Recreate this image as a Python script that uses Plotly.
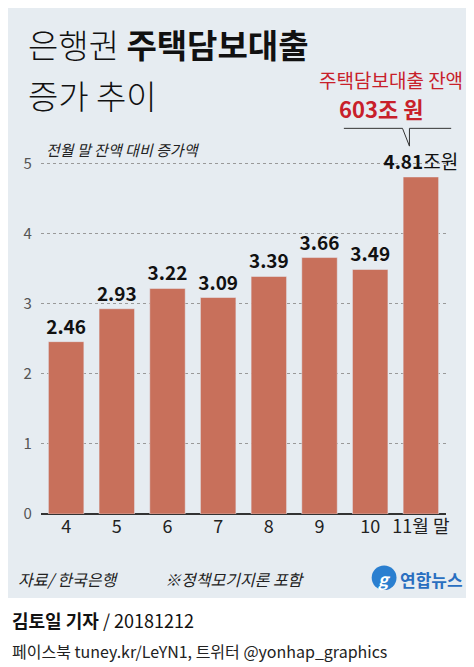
import plotly.graph_objects as go

months = ['4', '5', '6', '7', '8', '9', '10', '11월 말']
increase = [2.46, 2.93, 3.22, 3.09, 3.39, 3.66, 3.49, 4.81]
labels = ['<b>2.46</b>', '<b>2.93</b>', '<b>3.22</b>', '<b>3.09</b>', '<b>3.39</b>',
          '<b>3.66</b>', '<b>3.49</b>', '<b>4.81</b>조원']
yticks = [0, 1, 2, 3, 4, 5]

W, H = 474, 667
FONT = 'Noto Sans CJK KR'
BG = '#e6ecf1'

fig = go.Figure(go.Bar(
    x=months, y=increase, width=0.7, marker_color='#c8705b',
    text=labels, textposition='outside', cliponaxis=False, constraintext='none',
    textfont=dict(size=19, color='#111', family=FONT),
))

fig.update_layout(
    width=W, height=H, margin=dict(l=0, r=0, t=0, b=0),
    paper_bgcolor='white', plot_bgcolor='rgba(0,0,0,0)',
    font=dict(family=FONT), showlegend=False, uniformtext=dict(minsize=19, mode='show'),
    xaxis=dict(domain=[33 / W, 441 / W], range=[-0.5, 7.5], showline=False,
               ticks='', tickfont=dict(size=18, color='#222'), showgrid=False),
    yaxis=dict(domain=[1 - 513 / H, 1 - 140 / H], range=[0, 5.25], tickvals=yticks,
               showgrid=True, gridcolor='#999', griddash='dot', gridwidth=1,
               zeroline=True, zerolinecolor='#333', zerolinewidth=2,
               tickfont=dict(size=15, color='#555'), ticklabelstandoff=8),
    shapes=[
        dict(type='rect', xref='paper', yref='paper', x0=0, x1=1, y0=1 - 598 / H, y1=1,
             fillcolor=BG, line_width=0, layer='below'),
        dict(type='path', xref='paper', yref='paper', layer='above',
             path=f'M {338/W} {1-122/H} L {397/W} {1-122/H} L {404/W} {1-140/H} L {404/W} {1-122/H} L {446/W} {1-122/H}',
             line=dict(color='#333', width=1)),
        dict(type='circle', xref='paper', yref='paper', x0=366 / W, x1=391 / W,
             y0=1 - 590 / H, y1=1 - 565 / H, fillcolor='#2a7fd0', line_width=0),
    ],
)

def note(x, y, text, size, color='#222', anchor='left', weight='normal'):
    fig.add_annotation(x=x / W, y=1 - y / H, xref='paper', yref='paper', text=text,
                       showarrow=False, xanchor=anchor, yanchor='middle',
                       font=dict(size=size, color=color, family=FONT, weight=weight))

note(18, 36, '은행권 <b>주택담보대출</b>', 33, '#111', weight=300)
note(18, 88, '증가 추이', 33, '#111', weight=300)
note(460, 72, '주택담보대출 잔액', 19, '#c8202a', 'right')
note(420, 101, '<b>603조 원</b>', 22, '#c8202a', 'right')
note(36, 143, '<i>전월 말 잔액 대비 증가액</i>', 15, '#222')
note(8, 579, '<i>자료/ 한국은행</i>', 16, '#222')
note(156, 579, '<i>※정책모기지론 포함</i>', 16, '#222')
note(378.5, 578, '<b><i>g</i></b>', 17, 'white', 'center')
note(392, 579, '<b>연합뉴스</b>', 17, '#2a6fc0')
note(2, 620, '<b>김토일 기자</b> / 20181212', 18, '#111')
note(2, 652, '페이스북 tuney.kr/LeYN1, 트위터 @yonhap_graphics', 16, '#222')

fig.write_html('out.html')
